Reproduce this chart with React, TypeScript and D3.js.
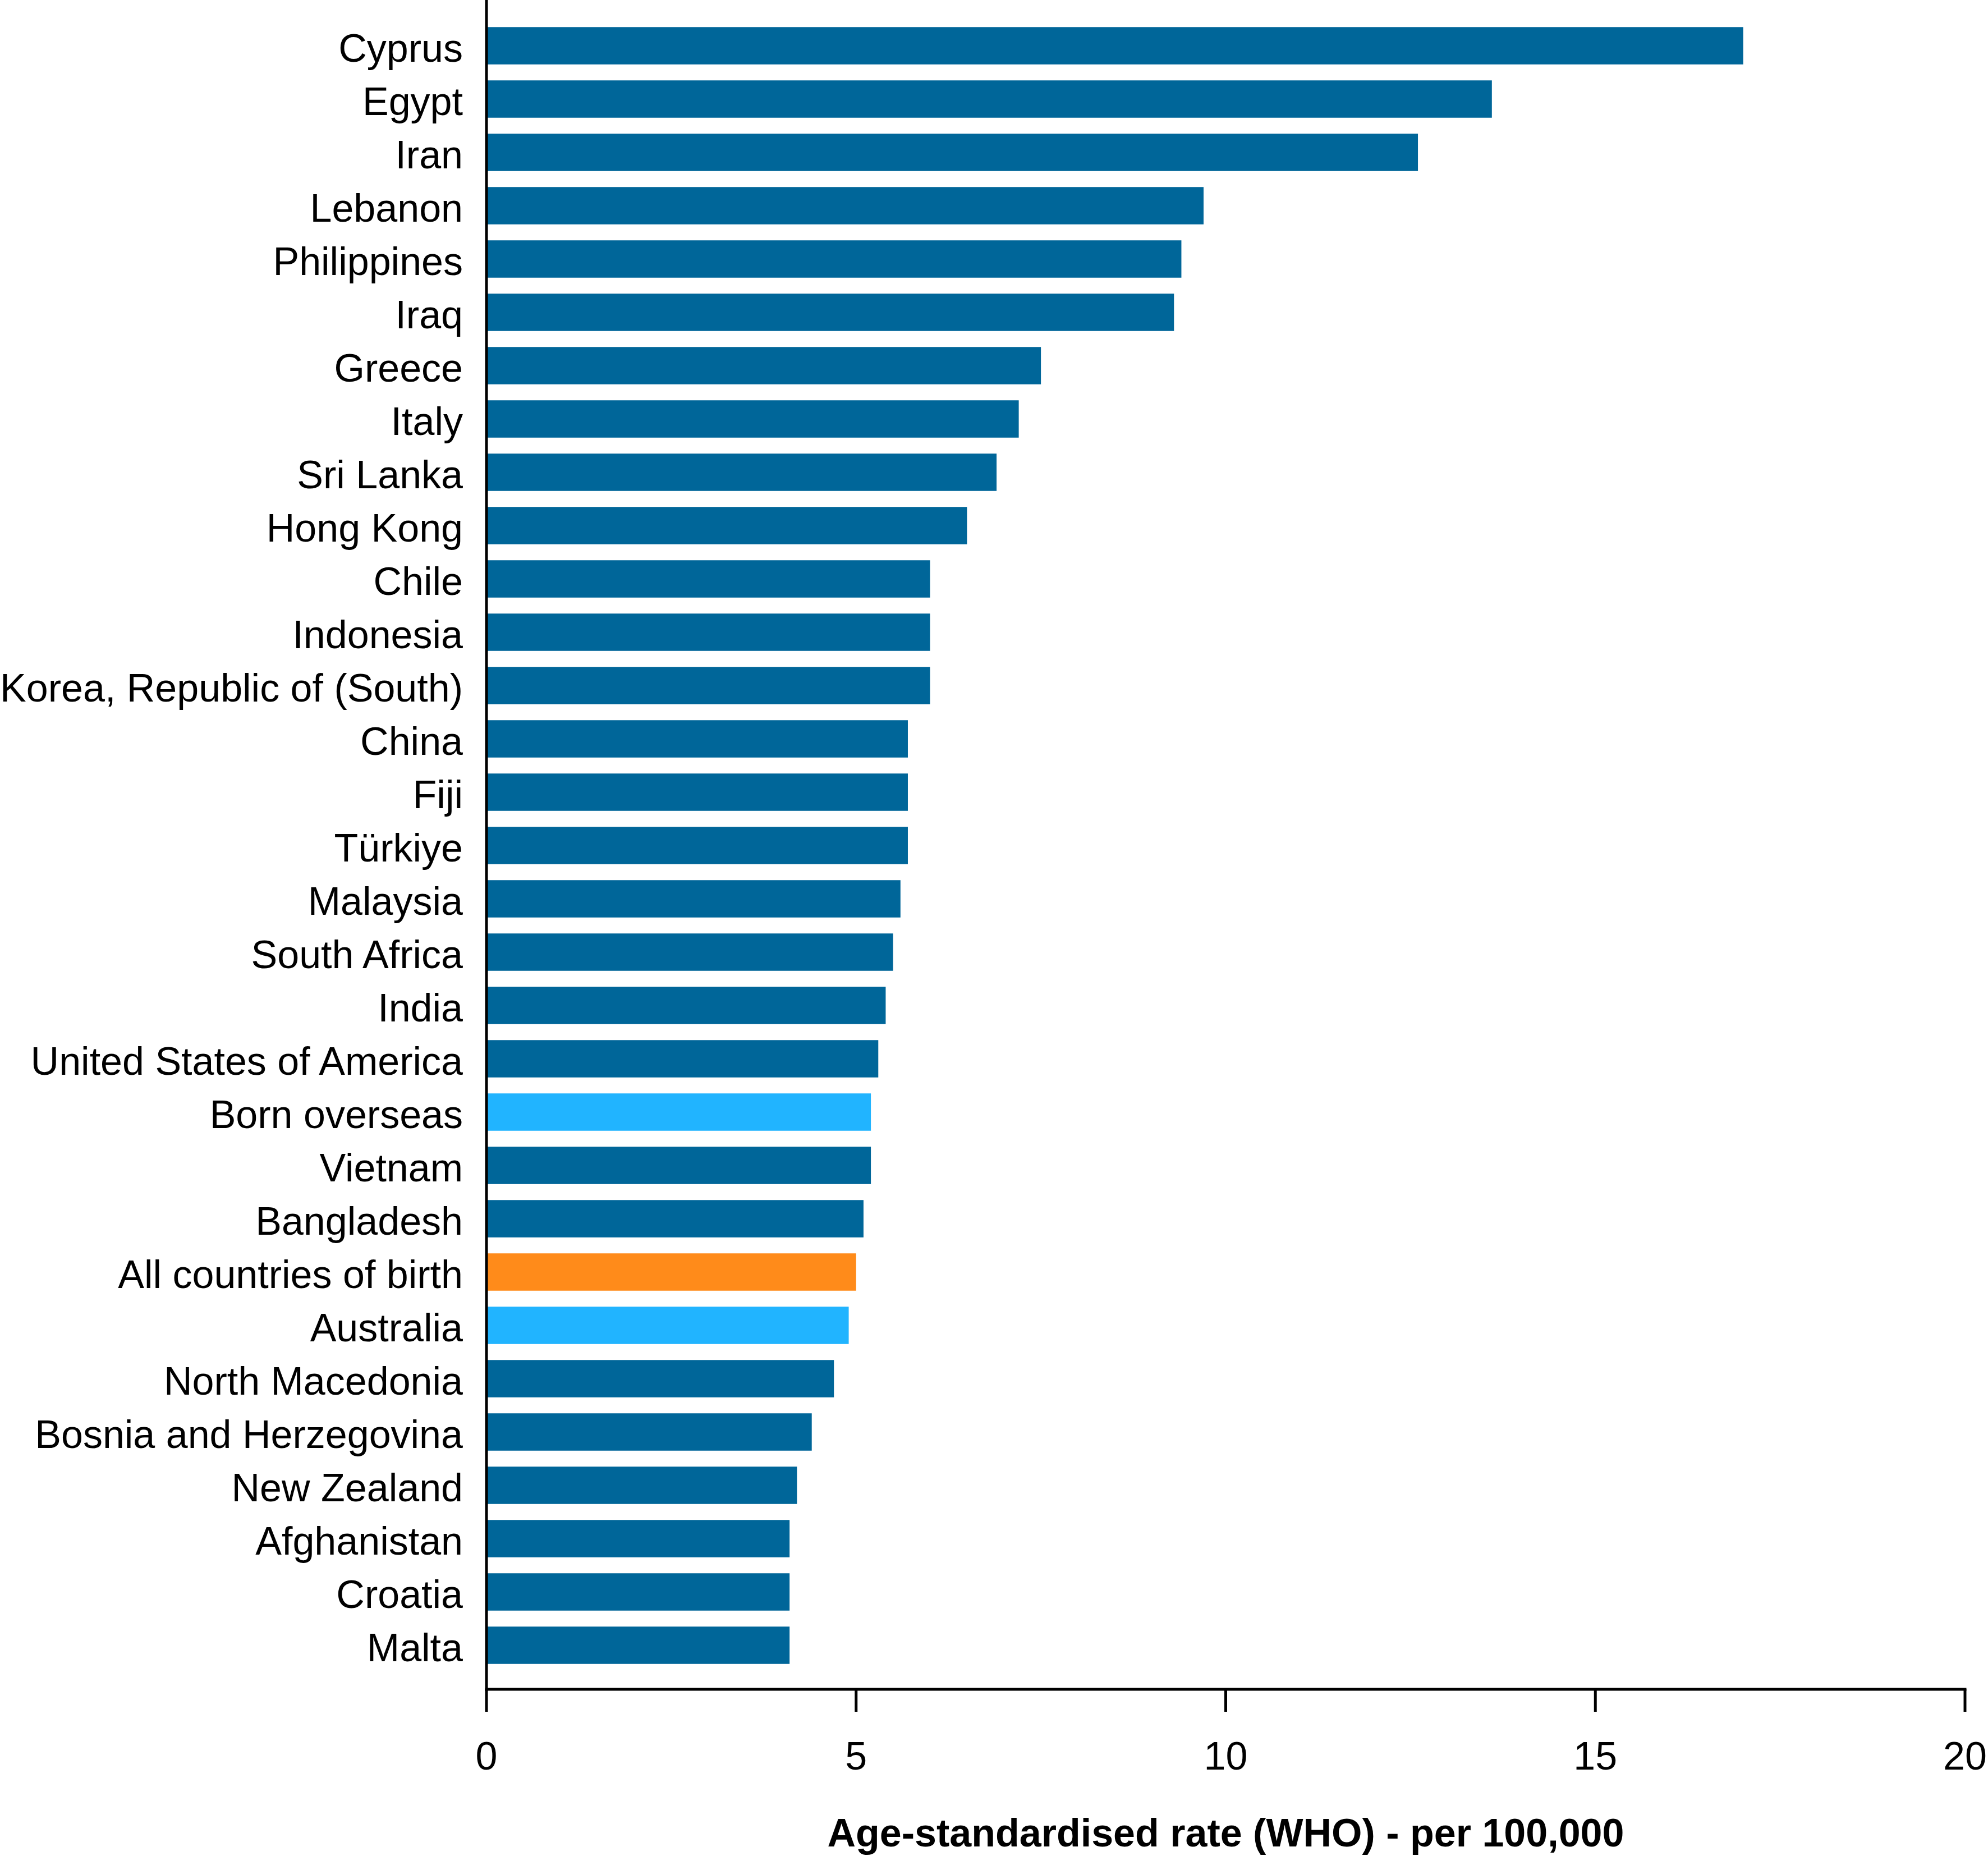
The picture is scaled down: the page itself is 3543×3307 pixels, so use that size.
import React from "react";
import * as d3 from "d3";

const countries = [
  "Cyprus", "Egypt", "Iran", "Lebanon", "Philippines", "Iraq", "Greece", "Italy",
  "Sri Lanka", "Hong Kong", "Chile", "Indonesia", "Korea, Republic of (South)",
  "China", "Fiji", "Türkiye", "Malaysia", "South Africa", "India",
  "United States of America", "Born overseas", "Vietnam", "Bangladesh",
  "All countries of birth", "Australia", "North Macedonia",
  "Bosnia and Herzegovina", "New Zealand", "Afghanistan", "Croatia", "Malta",
];

const rates = [
  17.0, 13.6, 12.6, 9.7, 9.4, 9.3, 7.5, 7.2, 6.9, 6.5, 6.0, 6.0, 6.0,
  5.7, 5.7, 5.7, 5.6, 5.5, 5.4, 5.3, 5.2, 5.2, 5.1, 5.0, 4.9, 4.7,
  4.4, 4.2, 4.1, 4.1, 4.1,
];

// category group: "country", "ref" (Born overseas / Australia), "all"
const groups = countries.map((c) =>
  c === "All countries of birth" ? "all" : c === "Born overseas" || c === "Australia" ? "ref" : "country"
);

const xTicks = [0, 5, 10, 15, 20];
const xTitle = "Age-standardised rate (WHO) - per 100,000";

const colors: Record<string, string> = {
  country: "#006699",
  ref: "#21B4FF",
  all: "#FF8B1A",
};

export default function App() {
  const W = 3543;
  const H = 3307;
  const x0 = 867;
  const x1 = 3502;
  const axisY = 3010;
  const x = d3.scaleLinear().domain([0, 20]).range([x0, x1]);
  const y = d3
    .scaleBand<string>()
    .domain(countries)
    .range([34, 34 + 31 * 95])
    .paddingInner(0.3)
    .paddingOuter(0.15);
  const font = "'Liberation Sans', Arial, Helvetica, sans-serif";

  return (
    <svg
      width={W}
      height={H}
      style={{ position: "absolute", left: 0, top: 0, background: "#fff" }}
      fontFamily={font}
    >
      <rect x={0} y={0} width={W} height={H} fill="#fff" />
      {countries.map((c, i) => (
        <g key={c}>
          <rect
            x={x(0)}
            y={y(c)!}
            width={x(rates[i]) - x(0)}
            height={y.bandwidth()}
            fill={colors[groups[i]]}
          />
          <text
            x={x0 - 42}
            y={y(c)! + y.bandwidth() / 2 + 4}
            dy="0.35em"
            textAnchor="end"
            fontSize={70}
            fill="#000"
          >
            {c}
          </text>
        </g>
      ))}
      {/* y axis line */}
      <line x1={x0} x2={x0} y1={0} y2={axisY + 3} stroke="#000" strokeWidth={5} />
      {/* x axis line */}
      <line x1={x0 - 2.5} x2={x1 + 2.5} y1={axisY} y2={axisY} stroke="#000" strokeWidth={5} />
      {xTicks.map((t) => (
        <g key={t}>
          <line x1={x(t)} x2={x(t)} y1={axisY} y2={axisY + 40} stroke="#000" strokeWidth={5} />
          <text x={x(t)} y={3153} textAnchor="middle" fontSize={70} fill="#000">
            {t}
          </text>
        </g>
      ))}
      <text
        x={(x0 + x1) / 2}
        y={3290}
        textAnchor="middle"
        fontSize={70}
        fontWeight="bold"
        fill="#000"
      >
        {xTitle}
      </text>
    </svg>
  );
}
